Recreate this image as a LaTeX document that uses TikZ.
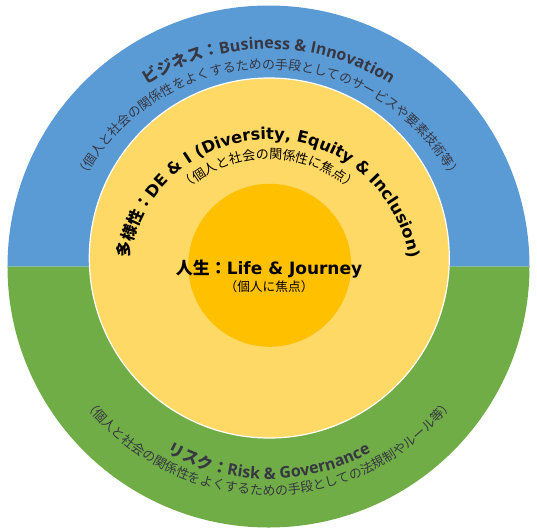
\documentclass[tikz,border=0pt]{standalone}
\usepackage{fontspec}
\setmainfont{DejaVu Sans}
\newfontfamily\jpfont{Noto Sans CJK JP}
\newfontfamily\ringfont{Open Sans}
\usepackage{xcolor}
\usetikzlibrary{decorations.text}
\definecolor{bizblue}{RGB}{91,155,213}
\definecolor{riskgreen}{RGB}{112,173,71}
\definecolor{deiyellow}{RGB}{255,217,102}
\definecolor{lifegold}{RGB}{255,192,0}
\definecolor{ringgray}{RGB}{55,55,66}
\newcommand\ringjp{\jpfont\bfseries\fontsize{16}{16}\selectfont}
\newcommand\ringla{\ringfont\bfseries\fontsize{16}{16}\selectfont}
\newcommand\ringsub{\jpfont\fontsize{12.9}{12.9}\selectfont}
\newcommand\deijp{\jpfont\bfseries\fontsize{16.2}{16.2}\selectfont}
\newcommand\deila{\bfseries\fontsize{16.2}{16.2}\selectfont}
\newcommand\deisub{\jpfont\fontsize{13}{13}\selectfont}

\begin{document}
\begin{tikzpicture}[x=1pt,y=1pt,
  arctext/.style={decorate,decoration={text along path,text align=center,text color=#1}}]
\useasboundingbox (-268.5,-264.5) rectangle (268.5,266.5);
% rings
\fill[bizblue] (261,0) arc[start angle=0,end angle=180,radius=261] -- cycle;
\fill[riskgreen] (-261,0) arc[start angle=180,end angle=360,radius=261] -- cycle;
\filldraw[fill=deiyellow,draw=white,line width=1.2pt] (0.8,8.5) circle[radius=180];
\fill[lifegold] (1.2,1.2) circle[radius=81.5];
% centres of the text arcs
\coordinate (topc) at (0,-10.5);
\coordinate (deic) at (0.5,-15);
\coordinate (riskc) at (0.5,-3.5);
\coordinate (risksubc) at (0.5,4.5);
% outer ring, top
\path[arctext=ringgray,decoration={text={|\ringjp|ビジネス：|\ringla|Business {\&} Innovation}}]
  ([shift={(topc)}]180:228) arc[start angle=180,end angle=0,radius=228];
\path[arctext=ringgray,decoration={text={|\ringsub|（個人と社会の関係性をよくするための手段としてのサービスや要素技術等）}}]
  ([shift={(topc)}]180:208) arc[start angle=180,end angle=0,radius=208];
% middle ring
\path[arctext=black,decoration={text={|\deijp|多様性：|\deila|DE {\&} I (Diversity, Equity {\&} Inclusion)}}]
  ([shift={(deic)}]180:142) arc[start angle=180,end angle=0,radius=142];
\path[arctext=black,decoration={text={|\deisub|（個人と社会の関係性に焦点）}}]
  ([shift={(deic)}]180:123) arc[start angle=180,end angle=0,radius=123];
% outer ring, bottom
\path[arctext=ringgray,decoration={text={|\ringjp|リスク：|\ringla|Risk {\&} Governance}}]
  ([shift={(riskc)}]180:209) arc[start angle=180,end angle=360,radius=209];
\path[arctext=ringgray,decoration={text={|\ringsub|（個人と社会の関係性をよくするための手段としての法規制やルール等）}}]
  ([shift={(risksubc)}]180:233) arc[start angle=180,end angle=360,radius=233];
% centre
\node[anchor=base,inner sep=0pt] (life) at (0.5,-7.5)
  {\bfseries\fontsize{17}{17}\selectfont{\jpfont 人生：}Life \& Journey};
\node[inner sep=0pt] (lifesub) at (0.5,-20.5)
  {\jpfont\fontsize{12.7}{12.7}\selectfont （個人に焦点）};
\end{tikzpicture}
\end{document}
